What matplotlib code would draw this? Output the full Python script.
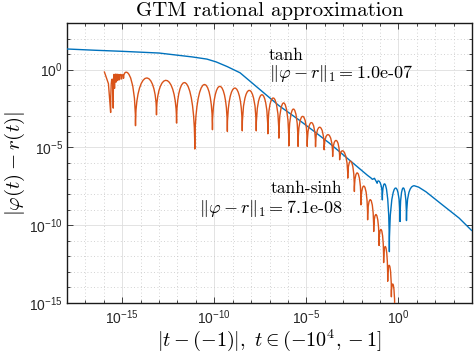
import numpy as np
import matplotlib
matplotlib.use('Agg')
import matplotlib.pyplot as plt
from matplotlib.path import Path
from matplotlib.patches import PathPatch
from matplotlib.ticker import FixedLocator, FixedFormatter, NullFormatter

plt.rcParams['font.family'] = ['Liberation Sans', 'DejaVu Sans']
plt.rcParams['mathtext.fontset'] = 'cm'

# tanh error curve (blue): smooth part, oscillating part, tail
blue_head_lx = [-18.0, -16.5, -15.0, -13.0, -11.2, -10.4, -9.9, -9.3, -8.6, -8.0,
                -7.5, -6.5, -5.4, -4.56, -3.75, -2.57, -1.67, -1.50, -1.40, -1.30]
blue_head_ly = [1.33, 1.25, 1.18, 1.07, 0.82, 0.68, 0.50, 0.20, -0.20, -0.80,
                -1.30, -2.30, -3.23, -3.98, -4.72, -5.90, -6.80, -6.95, -7.05, -6.98]
blue_dip_lx = [-1.15, -0.87, -0.49, 0.09, 0.44]
blue_dip_ly = [-7.30, -8.37, -11.7, -9.76, -9.70]
blue_peak_ly = [-7.22, -7.50, -7.65, -7.60]
blue_tail_lx = [0.86, 1.1, 1.5, 2.39, 3.3, 4.0]
blue_tail_ly = [-7.46, -7.55, -7.85, -8.69, -9.54, -10.36]

# tanh-sinh error curve (orange)
orange_head_lx = [-15.98, -15.75]
orange_head_ly = [-0.11, -0.90]
orange_dip_lx = [-15.63, -15.49, -15.42, -15.34, -15.25, -15.15, -15.04, -14.93,
                 -14.28, -13.14, -12.05, -11.06, -10.10, -9.29, -8.48, -7.72,
                 -7.09, -6.49, -5.95, -5.45, -4.95, -4.50, -4.03, -3.57, -3.19,
                 -2.75, -2.39, -2.03, -1.67, -1.34, -1.05, -0.80, -0.58, -0.38, -0.20]
orange_dip_ly = [-2.75, -2.47, -1.20, -0.80, -0.70, -0.65, -0.60, -0.55,
                 -3.60, -2.90, -3.43, -5.10, -3.86, -3.97, -3.93, -3.93,
                 -4.12, -4.40, -4.90, -4.93, -4.93, -4.95, -5.15, -5.58, -5.79,
                 -6.97, -7.83, -8.69, -9.65, -10.4, -11.3, -12.4, -13.6, -14.6, -15.5]
orange_peak_ly = [-0.60, -0.35, -0.30, -0.28, -0.30, -0.30, -0.32, -0.37,
                  -0.54, -0.69, -0.86, -0.97, -1.07, -1.18, -1.33, -1.61,
                  -1.82, -2.14, -2.53, -3.00, -3.40, -3.70, -4.18, -4.55,
                  -5.26, -5.90, -6.65, -7.50, -8.37, -9.33, -10.3, -11.4, -12.6, -13.8]

major_x = [1e-15, 1e-10, 1e-5, 1e0]
major_x_labels = ['10^{-15}', '10^{-10}', '10^{-5}', '10^{0}']
major_y = [1e-15, 1e-10, 1e-5, 1e0]
major_y_labels = ['10^{-15}', '10^{-10}', '10^{-5}', '10^{0}']

blue = '#0072BD'
orange = '#D95319'
dark = '#262626'


def build_path(head_x, head_y, dip_x, dip_y, peaks, tail_x=None, tail_y=None):
    # arches between cusps are drawn as bezier pieces with vertical ends
    verts = [(head_x[0], head_y[0])]
    codes = [Path.MOVETO]
    for x, y in zip(head_x[1:], head_y[1:]):
        verts.append((x, y))
        codes.append(Path.LINETO)
    verts.append((dip_x[0], dip_y[0]))
    codes.append(Path.LINETO)
    for i, p in enumerate(peaks):
        c = (p - 0.125 * (dip_y[i] + dip_y[i + 1])) / 0.75
        verts += [(dip_x[i], c), (dip_x[i + 1], c), (dip_x[i + 1], dip_y[i + 1])]
        codes += [Path.CURVE4] * 3
    if tail_x is not None:
        verts += [(dip_x[-1], tail_y[0]), (tail_x[0], tail_y[0])]
        codes += [Path.CURVE3] * 2
        for x, y in zip(tail_x[1:], tail_y[1:]):
            verts.append((x, y))
            codes.append(Path.LINETO)
    return Path(10.0 ** np.array(verts), codes)


fig = plt.figure(figsize=(4.74, 3.53), dpi=100)
ax = fig.add_axes([0.1414, 0.1416, 0.8544, 0.7932])
ax.set_xscale('log')
ax.set_yscale('log')
ax.set_xlim(1e-18, 1e4)
ax.set_ylim(1e-15, 1e3)

blue_path = build_path(blue_head_lx, blue_head_ly, blue_dip_lx, blue_dip_ly,
                       blue_peak_ly, blue_tail_lx, blue_tail_ly)
orange_path = build_path(orange_head_lx, orange_head_ly, orange_dip_lx,
                         orange_dip_ly, orange_peak_ly)
ax.add_patch(PathPatch(blue_path, fill=False, edgecolor=blue, lw=1.0,
                       joinstyle='round', capstyle='butt', zorder=3))
ax.add_patch(PathPatch(orange_path, fill=False, edgecolor=orange, lw=1.0,
                       joinstyle='round', capstyle='butt', zorder=4))

# ticks, MATLAB style box
ax.xaxis.set_major_locator(FixedLocator(major_x))
ax.xaxis.set_major_formatter(FixedFormatter([r'$\mathdefault{%s}$' % s for s in major_x_labels]))
ax.yaxis.set_major_locator(FixedLocator(major_y))
ax.yaxis.set_major_formatter(FixedFormatter([r'$\mathdefault{%s}$' % s for s in major_y_labels]))
ax.xaxis.set_minor_locator(FixedLocator(np.logspace(-18, 4, 23)))
ax.yaxis.set_minor_locator(FixedLocator(np.logspace(-15, 3, 19)))
ax.xaxis.set_minor_formatter(NullFormatter())
ax.yaxis.set_minor_formatter(NullFormatter())
ax.tick_params(which='both', direction='in', top=True, right=True, color=dark,
               width=0.6, labelsize=10, labelcolor=dark)
ax.tick_params(which='major', length=4)
ax.tick_params(which='minor', length=2.2)
ax.tick_params(axis='x', pad=4)
ax.tick_params(axis='y', pad=3)
for s in ax.spines.values():
    s.set_color('#1a1a1a')
    s.set_linewidth(1.0)

ax.grid(which='major', color='#dedede', lw=0.6, ls='-')
ax.grid(which='minor', color='#c4c4c4', lw=0.6, ls=(0, (1, 3)))
ax.set_axisbelow(True)

ax.set_title('GTM rational approximation', fontfamily='cmr10', fontsize=15, pad=5)
ax.set_xlabel(r'$|t-(-1)|,\ t\in(-10^4,-1]$', fontsize=14.5, labelpad=0)
ax.set_ylabel(r'$|\varphi(t)-r(t)|$', fontsize=15)
ax.yaxis.set_label_coords(-0.1, 0.5)

# annotations
ax.text(10 ** -7.05, 10 ** 0.64, 'tanh', fontfamily='cmr10', fontsize=12.5,
        ha='left', va='baseline', color='k')
ax.text(10 ** -7.05, 10 ** -0.53, r'$\Vert\varphi - r\Vert_1 = 1.0$e-07',
        fontfamily='cmr10', fontsize=13, ha='left', va='baseline', color='k')
ax.text(10 ** -3.05, 10 ** -7.94, 'tanh-sinh', fontfamily='cmr10', fontsize=12.5,
        ha='right', va='baseline', color='k')
ax.text(10 ** -3.05, 10 ** -9.22, r'$\Vert\varphi - r\Vert_1 = 7.1$e-08',
        fontfamily='cmr10', fontsize=13, ha='right', va='baseline', color='k')

fig.savefig('out.png', dpi=100)
